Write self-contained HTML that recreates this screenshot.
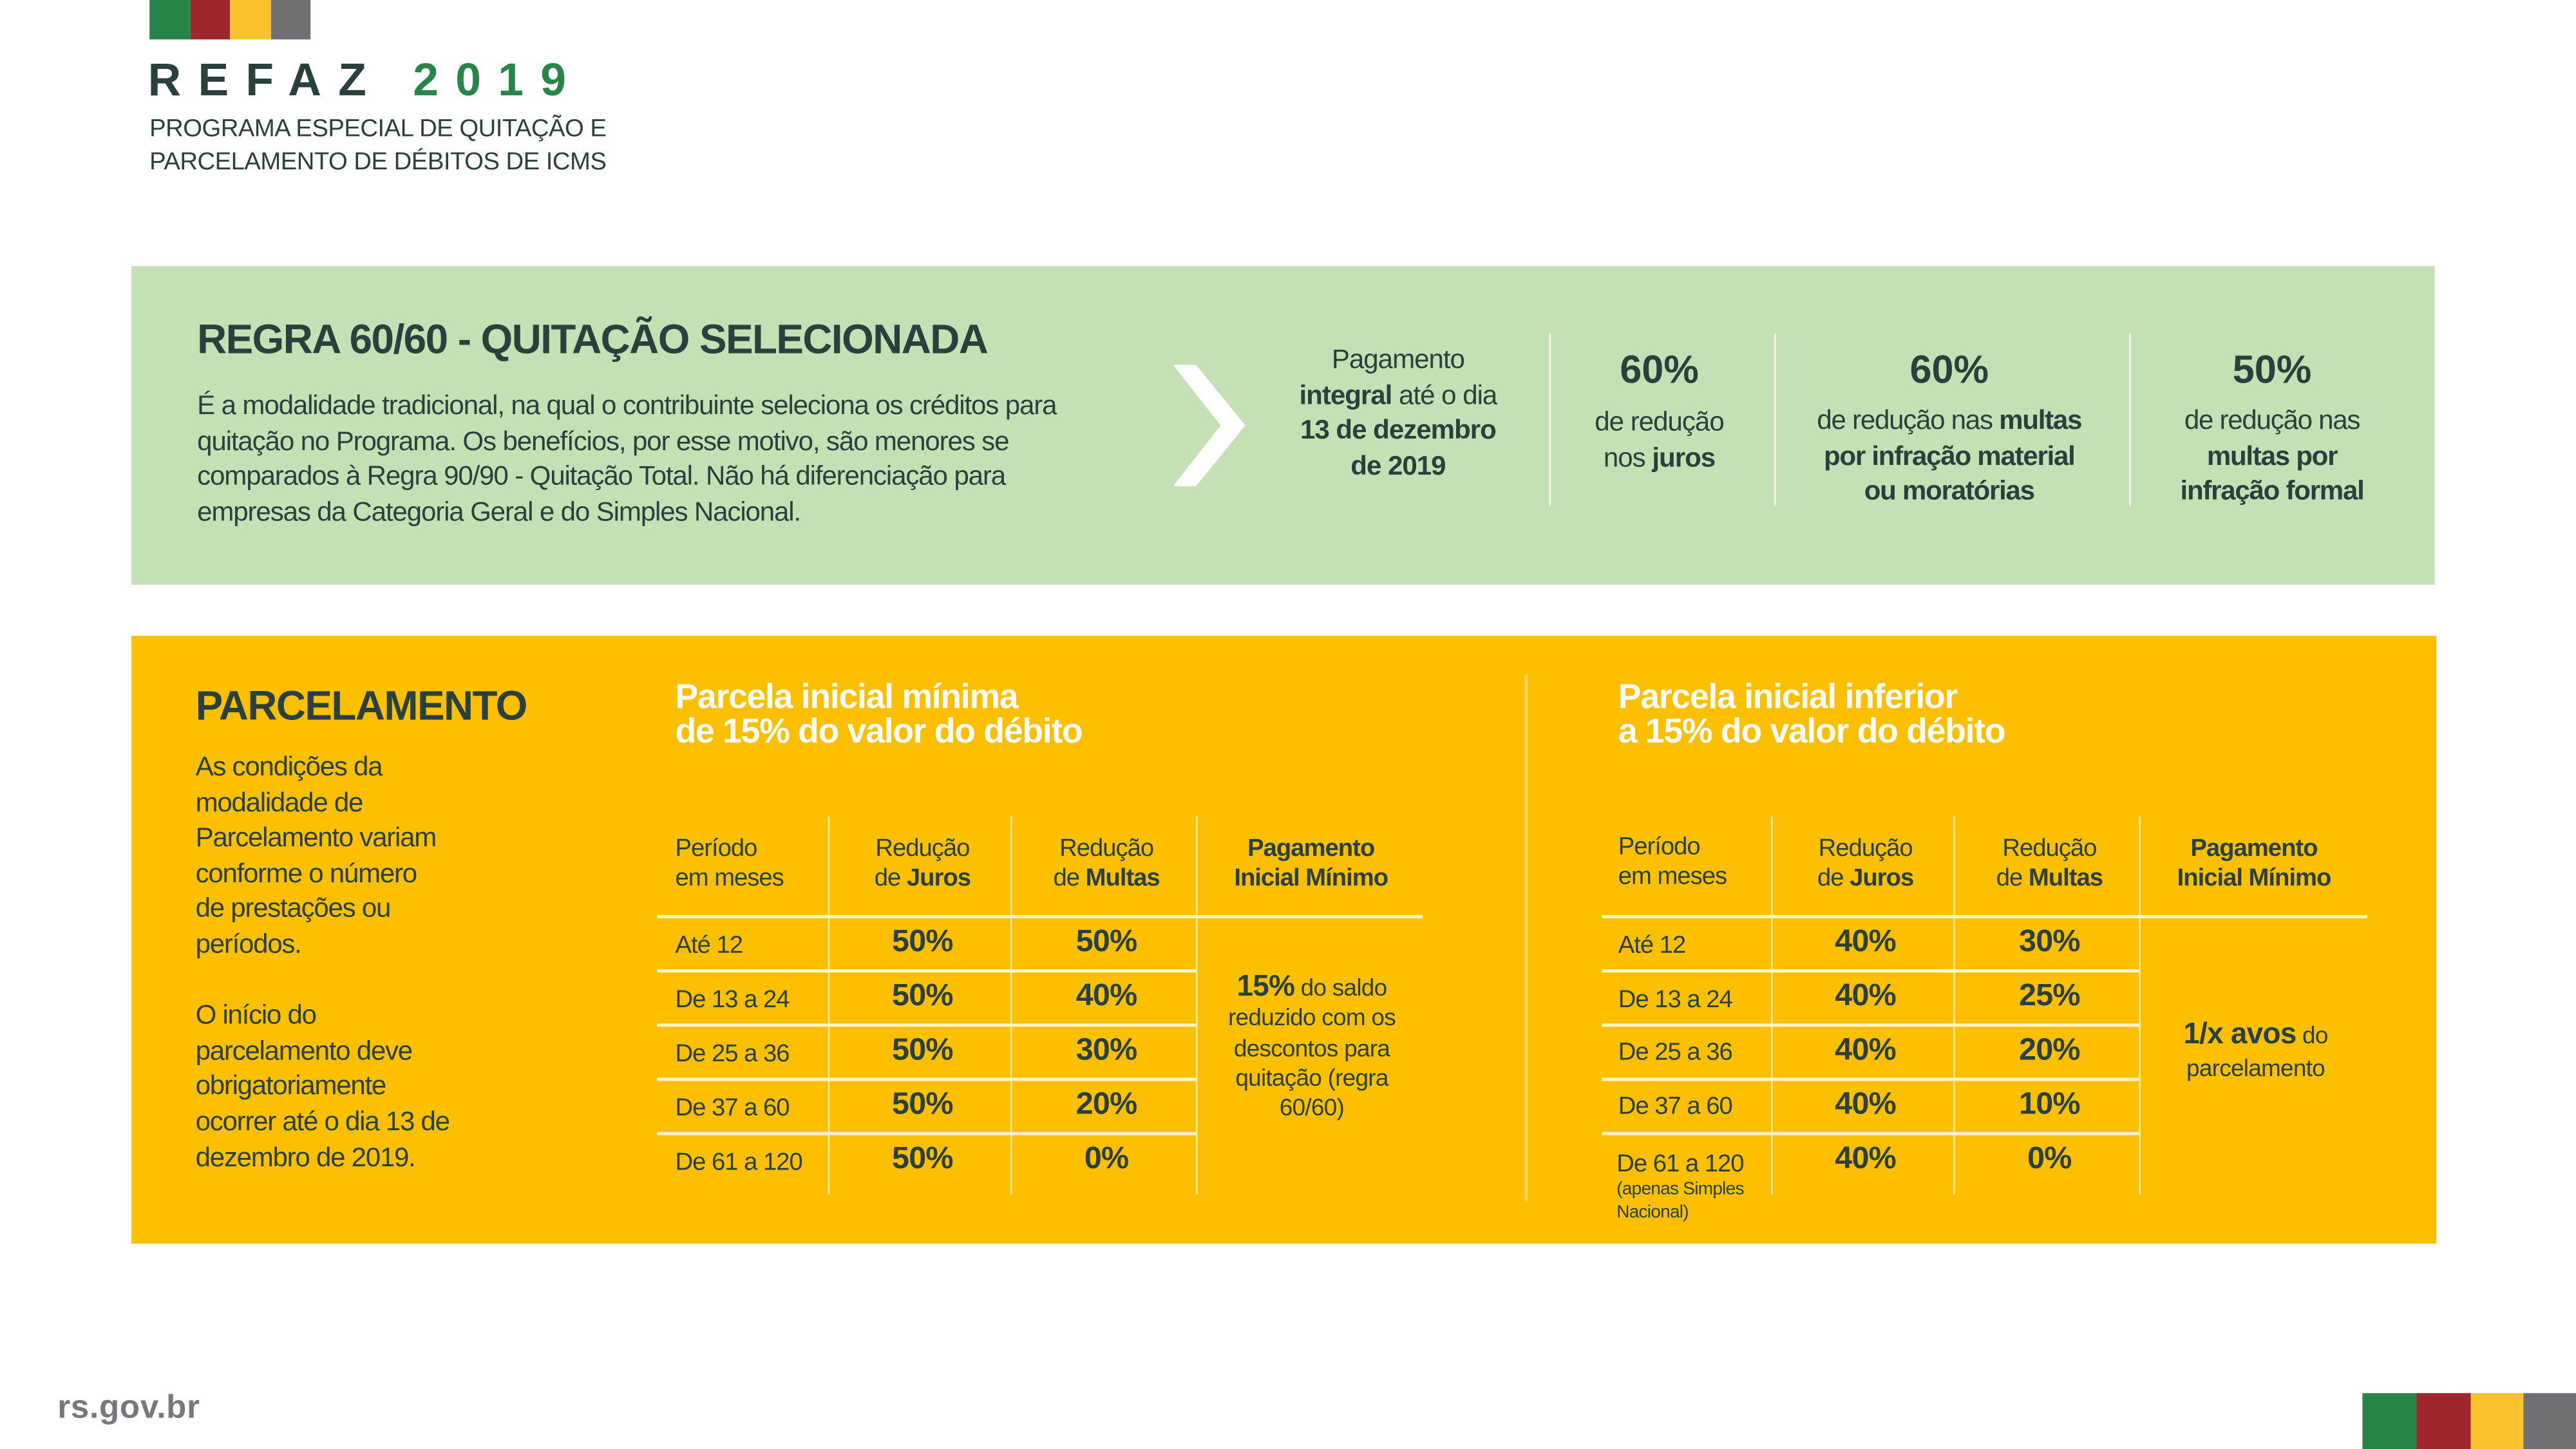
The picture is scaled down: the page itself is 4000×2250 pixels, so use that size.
<!DOCTYPE html>
<html><head><meta charset="utf-8">
<style>
html,body{margin:0;padding:0;background:#fff;}
body{width:4000px;height:2250px;overflow:hidden;position:relative;}
#s{position:absolute;left:0;top:0;width:1568px;height:882px;transform:scale(2.55102);transform-origin:0 0;font-family:"Liberation Sans",sans-serif;color:#2a403d;}
#s div{position:absolute;}
.c{text-align:center;}
b{font-weight:bold;}
.t{font-size:15px;letter-spacing:-0.4px;line-height:18px;}
.p{font-size:19px;font-weight:bold;letter-spacing:-0.3px;}
.vl{width:1px;background:#fbe7a6;}
.hl{height:1.5px;background:#fff3cc;}
</style></head><body><div id="s">
<div style="left:91px;top:0;width:24.5px;height:24px;background:#27854a"></div>
<div style="left:115.5px;top:0;width:24.5px;height:24px;background:#9f272c"></div>
<div style="left:140px;top:0;width:24.5px;height:24px;background:#f9c22e"></div>
<div style="left:164.5px;top:0;width:24.5px;height:24px;background:#717174"></div>
<div style="left:90px;top:32px;font-size:28px;font-weight:bold;letter-spacing:10.3px;line-height:34px;">REFAZ <span style="color:#27854a">2019</span></div>
<div style="left:91px;top:69px;font-size:15px;line-height:20px;letter-spacing:-0.2px;color:#2a403d">PROGRAMA ESPECIAL DE QUITAÇÃO E<br>PARCELAMENTO DE DÉBITOS DE ICMS</div>

<div style="left:80px;top:162px;width:1402px;height:194px;background:#c5e0b4"></div>
<div style="left:120px;top:192px;font-size:25px;font-weight:bold;letter-spacing:-0.6px;line-height:30px;">REGRA 60/60 - QUITAÇÃO SELECIONADA</div>
<div style="left:120px;top:237px;width:560px;font-size:16.5px;line-height:21.6px;letter-spacing:-0.45px;">É a modalidade tradicional, na qual o contribuinte seleciona os créditos para quitação no Programa. Os benefícios, por esse motivo, são menores se comparados à Regra 90/90 - Quitação Total. Não há diferenciação para empresas da Categoria Geral e do Simples Nacional.</div>
<svg style="position:absolute;left:714px;top:222px" width="46" height="76"><polygon points="0,0 14,0 44,37 14,74 0,74 29,37" fill="#fff"/></svg>
<div class="c" style="left:770px;top:209px;width:162px;font-size:16.5px;line-height:21.5px;letter-spacing:-0.4px;">Pagamento<br><b>integral</b> até o dia<br><b>13 de dezembro<br>de 2019</b></div>
<div style="left:943px;top:203px;width:1px;height:105px;background:#f2f7ee"></div>
<div style="left:1080px;top:203px;width:1px;height:105px;background:#f2f7ee"></div>
<div style="left:1296px;top:203px;width:1px;height:105px;background:#f2f7ee"></div>
<div class="c" style="left:942px;top:211px;width:136px;font-size:24px;font-weight:bold;line-height:30px">60%</div>
<div class="c" style="left:942px;top:246px;width:136px;font-size:16.5px;line-height:22px;letter-spacing:-0.4px">de redução<br>nos <b>juros</b></div>
<div class="c" style="left:1079px;top:211px;width:215px;font-size:24px;font-weight:bold;line-height:30px">60%</div>
<div class="c" style="left:1079px;top:246px;width:215px;font-size:16.5px;line-height:21.5px;letter-spacing:-0.5px">de redução nas <b>multas<br>por infração material<br>ou moratórias</b></div>
<div class="c" style="left:1297px;top:211px;width:172px;font-size:24px;font-weight:bold;line-height:30px">50%</div>
<div class="c" style="left:1297px;top:246px;width:172px;font-size:16.5px;line-height:21.5px;letter-spacing:-0.5px">de redução nas<br><b>multas por<br>infração formal</b></div>

<div style="left:80px;top:387px;width:1403px;height:370px;background:#fdc000"></div>
<div style="left:119px;top:415px;font-size:25px;font-weight:bold;letter-spacing:-0.6px;line-height:30px;">PARCELAMENTO</div>
<div style="left:119px;top:457px;width:190px;font-size:16.5px;line-height:21.6px;letter-spacing:-0.5px;">As condições da<br>modalidade de<br>Parcelamento variam<br>conforme o número<br>de prestações ou<br>períodos.<br><br>O início do<br>parcelamento deve<br>obrigatoriamente<br>ocorrer até o dia 13 de<br>dezembro de 2019.</div>
<div style="left:928px;top:411px;width:2px;height:320px;background:#f5d26a"></div>

<div style="left:411px;top:414px;font-size:21px;font-weight:bold;color:#fff;line-height:21px;letter-spacing:-0.5px">Parcela inicial mínima<br>de 15% do valor do débito</div>
<div style="left:985px;top:414px;font-size:21px;font-weight:bold;color:#fff;line-height:21px;letter-spacing:-0.5px">Parcela inicial inferior<br>a 15% do valor do débito</div>

<!-- left table -->
<div class="vl" style="left:504px;top:497px;height:230px"></div>
<div class="vl" style="left:615px;top:497px;height:230px"></div>
<div class="vl" style="left:728px;top:497px;height:230px"></div>
<div class="hl" style="left:400px;top:557px;width:466px"></div>
<div class="hl" style="left:400px;top:590px;width:328px"></div>
<div class="hl" style="left:400px;top:623px;width:328px"></div>
<div class="hl" style="left:400px;top:656px;width:328px"></div>
<div class="hl" style="left:400px;top:689px;width:328px"></div>
<div class="t" style="left:411px;top:508px">Período<br>em meses</div>
<div class="t c" style="left:506px;top:508px;width:111px">Redução<br>de <b>Juros</b></div>
<div class="t c" style="left:617px;top:508px;width:113px">Redução<br>de <b>Multas</b></div>
<div class="t c" style="left:728px;top:508px;width:140px"><b>Pagamento<br>Inicial Mínimo</b></div>
<div class="t" style="left:411px;top:567px">Até 12</div>
<div class="t" style="left:411px;top:600px">De 13 a 24</div>
<div class="t" style="left:411px;top:633px">De 25 a 36</div>
<div class="t" style="left:411px;top:666px">De 37 a 60</div>
<div class="t" style="left:411px;top:699px">De 61 a 120</div>
<div class="p c" style="left:506px;top:563px;width:111px">50%</div>
<div class="p c" style="left:506px;top:596px;width:111px">50%</div>
<div class="p c" style="left:506px;top:629px;width:111px">50%</div>
<div class="p c" style="left:506px;top:662px;width:111px">50%</div>
<div class="p c" style="left:506px;top:695px;width:111px">50%</div>
<div class="p c" style="left:617px;top:563px;width:113px">50%</div>
<div class="p c" style="left:617px;top:596px;width:113px">40%</div>
<div class="p c" style="left:617px;top:629px;width:113px">30%</div>
<div class="p c" style="left:617px;top:662px;width:113px">20%</div>
<div class="p c" style="left:617px;top:695px;width:113px">0%</div>
<div class="c" style="left:736px;top:591px;width:125px;font-size:14.5px;line-height:18.3px;letter-spacing:-0.3px"><b style="font-size:18px">15%</b> do saldo reduzido com os descontos para quitação (regra 60/60)</div>

<!-- right table -->
<div class="vl" style="left:1078px;top:497px;height:230px"></div>
<div class="vl" style="left:1189px;top:497px;height:230px"></div>
<div class="vl" style="left:1302px;top:497px;height:230px"></div>
<div class="hl" style="left:975px;top:557px;width:466px"></div>
<div class="hl" style="left:975px;top:590px;width:327px"></div>
<div class="hl" style="left:975px;top:623px;width:327px"></div>
<div class="hl" style="left:975px;top:656px;width:327px"></div>
<div class="hl" style="left:975px;top:689px;width:327px"></div>
<div class="t" style="left:985px;top:507px">Período<br>em meses</div>
<div class="t c" style="left:1080px;top:508px;width:111px">Redução<br>de <b>Juros</b></div>
<div class="t c" style="left:1191px;top:508px;width:113px">Redução<br>de <b>Multas</b></div>
<div class="t c" style="left:1302px;top:508px;width:140px"><b>Pagamento<br>Inicial Mínimo</b></div>
<div class="t" style="left:985px;top:567px">Até 12</div>
<div class="t" style="left:985px;top:600px">De 13 a 24</div>
<div class="t" style="left:985px;top:632px">De 25 a 36</div>
<div class="t" style="left:985px;top:665px">De 37 a 60</div>
<div class="t" style="left:984px;top:700px">De 61 a 120</div>
<div style="left:984px;top:718px;font-size:11px;line-height:13.5px;letter-spacing:-0.3px">(apenas Simples<br>Nacional)</div>
<div class="p c" style="left:1080px;top:563px;width:111px">40%</div>
<div class="p c" style="left:1080px;top:596px;width:111px">40%</div>
<div class="p c" style="left:1080px;top:629px;width:111px">40%</div>
<div class="p c" style="left:1080px;top:662px;width:111px">40%</div>
<div class="p c" style="left:1080px;top:695px;width:111px">40%</div>
<div class="p c" style="left:1191px;top:563px;width:113px">30%</div>
<div class="p c" style="left:1191px;top:596px;width:113px">25%</div>
<div class="p c" style="left:1191px;top:629px;width:113px">20%</div>
<div class="p c" style="left:1191px;top:662px;width:113px">10%</div>
<div class="p c" style="left:1191px;top:695px;width:113px">0%</div>
<div class="c" style="left:1302px;top:619px;width:142px;font-size:14.5px;line-height:20px;letter-spacing:-0.3px"><b style="font-size:18px">1/x avos</b> do<br>parcelamento</div>

<div style="left:35px;top:845px;font-size:20px;font-weight:bold;color:#77787b;letter-spacing:0.3px;line-height:24px">rs.gov.br</div>
<div style="left:1438px;top:848px;width:33px;height:34px;background:#27854a"></div>
<div style="left:1471px;top:848px;width:33px;height:34px;background:#9f272c"></div>
<div style="left:1504px;top:848px;width:32px;height:34px;background:#f9c22e"></div>
<div style="left:1536px;top:848px;width:32px;height:34px;background:#717174"></div>
</div></body></html>
